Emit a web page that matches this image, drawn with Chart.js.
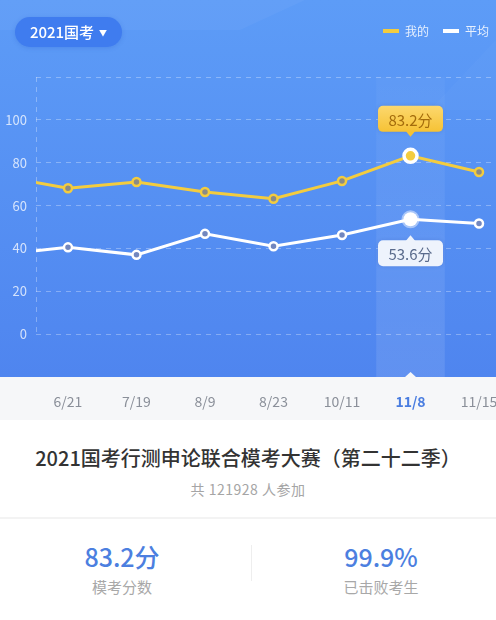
<!DOCTYPE html>
<html>
<head>
<meta charset="utf-8">
<script src="https://cdn.jsdelivr.net/npm/chart.js@4.4.0/dist/chart.umd.min.js"></script>
<style>
  body { margin: 0; width: 496px; height: 620px; overflow: hidden; background: #fff;
         font-family: "PingFang SC", "Noto Sans CJK SC", sans-serif; }
  #top { position: relative; width: 496px; height: 420px; }
  #pill { position: absolute; left: 15px; top: 17px; width: 107px; height: 30px; border-radius: 15px;
          background: #3f7cef; color: #fff; font-size: 15px; font-weight: 500; line-height: 30px;
          text-align: center; box-shadow: 0 1px 4px rgba(40, 90, 200, 0.25); }
  #pill span { font-size: 8px; margin-left: 5px; vertical-align: 2px; }
  .abs { position: absolute; text-align: center; }
  #title { left: 0; width: 496px; top: 445px; font-size: 20px; line-height: 26px; color: #333; font-weight: 500; }
  #sub { left: 0; width: 496px; top: 480px; font-size: 14px; line-height: 18px; color: #a5a5a5; letter-spacing: 0.5px; }
  #line { left: 0; top: 517px; width: 496px; height: 2px; background: #f3f3f3; }
  .num { top: 541px; width: 200px; font-size: 25px; line-height: 30px; color: #4c7fe0; font-weight: 500; }
  .lbl { top: 577px; width: 200px; font-size: 15px; line-height: 20px; color: #a8a8a8; }
  #div { left: 251px; top: 545px; width: 1px; height: 36px; background: #eeeeee; }
</style>
</head>
<body>
<div id="top">
  <canvas id="trend" width="496" height="420"></canvas>
  <div id="pill">2021国考<span>▼</span></div>
</div>
<div id="title" class="abs">2021国考行测申论联合模考大赛（第二十二季）</div>
<div id="sub" class="abs">共 121928 人参加</div>
<div id="line" class="abs"></div>
<div class="abs num" style="left:22px">83.2分</div>
<div class="abs lbl" style="left:22px">模考分数</div>
<div id="div" class="abs"></div>
<div class="abs num" style="left:281px">99.9%</div>
<div class="abs lbl" style="left:281px">已击败考生</div>

<script>
// datos de la gráfica (el primer punto queda fuera, a la izquierda)
const dates = ['', '6/21', '7/19', '8/9', '8/23', '10/11', '11/8', '11/15'];
const myScores = [73.8, 68.1, 71.0, 66.3, 63.2, 71.5, 83.2, 75.7];
const avgScores = [37.2, 40.5, 37.0, 46.8, 41.0, 46.3, 53.6, 51.6];
const seriesNames = ['我的', '平均'];
const yTicks = [0, 20, 40, 60, 80, 100];
const activeIndex = 6;

const YELLOW = '#f3cc3f';
const FONT = '"PingFang SC", "Noto Sans CJK SC", sans-serif';

const toPoints = (arr) => arr.map((v, i) => ({ x: i, y: v }));

// fondo azul, franja gris y columna resaltada
const backdrop = {
  id: 'backdrop',
  afterInit(chart) {
    // altura fija para la leyenda, así el área del gráfico empieza donde queremos
    const lg = chart.legend;
    const fit = lg.fit.bind(lg);
    lg.fit = function () {
      fit();
      this.height = 66;
    };
  },
  afterLayout(chart) {
    // empujar la leyenda un poco hacia la derecha
    chart.legend.right = chart.width + 7;
  },
  beforeDraw(chart) {
    const { ctx, chartArea, width, height, scales } = chart;
    const bottom = chartArea.bottom;
    const g = ctx.createLinearGradient(0, 0, 0, bottom);
    g.addColorStop(0, '#5d9cf7');
    g.addColorStop(1, '#4f85ef');
    ctx.save();
    ctx.fillStyle = g;
    ctx.fillRect(0, 0, width, bottom);
    // diagonales suaves de decoración
    ctx.fillStyle = 'rgba(255,255,255,0.04)';
    ctx.beginPath();
    ctx.moveTo(0, 0); ctx.lineTo(305, 0); ctx.lineTo(240, 30); ctx.lineTo(0, 30); ctx.closePath();
    ctx.fill();
    ctx.fillStyle = 'rgba(255,255,255,0.025)';
    ctx.beginPath();
    ctx.moveTo(496, 40); ctx.lineTo(496, 110); ctx.lineTo(430, 110); ctx.closePath();
    ctx.fill();
    // franja de etiquetas
    ctx.fillStyle = '#f6f7f9';
    ctx.fillRect(0, bottom, width, height - bottom);
    // columna activa
    const x = scales.x.getPixelForValue(activeIndex);
    const half = (scales.x.getPixelForValue(1) - scales.x.getPixelForValue(0)) / 2;
    const bg = ctx.createLinearGradient(0, chartArea.top, 0, bottom);
    bg.addColorStop(0, 'rgba(255,255,255,0.03)');
    bg.addColorStop(1, 'rgba(255,255,255,0.1)');
    ctx.fillStyle = bg;
    ctx.fillRect(x - half, chartArea.top, half * 2, bottom - chartArea.top);
    ctx.fillStyle = '#f6f7f9';
    ctx.beginPath();
    ctx.moveTo(x - 6, bottom + 0.5); ctx.lineTo(x, bottom - 5); ctx.lineTo(x + 6, bottom + 0.5);
    ctx.closePath();
    ctx.fill();
    // eje vertical punteado
    const y = scales.y;
    ctx.strokeStyle = 'rgba(255,255,255,0.3)';
    ctx.lineWidth = 1;
    ctx.setLineDash([5, 5]);
    ctx.beginPath();
    ctx.moveTo(chartArea.left + 0.5, y.getPixelForValue(120));
    ctx.lineTo(chartArea.left + 0.5, y.getPixelForValue(0));
    ctx.stroke();
    ctx.restore();
  }
};

function roundRect(ctx, x, y, w, h, r) {
  ctx.beginPath();
  ctx.moveTo(x + r, y);
  ctx.arcTo(x + w, y, x + w, y + h, r);
  ctx.arcTo(x + w, y + h, x, y + h, r);
  ctx.arcTo(x, y + h, x, y, r);
  ctx.arcTo(x, y, x + w, y, r);
  ctx.closePath();
}

// etiquetas fijas del punto activo
const badges = {
  id: 'badges',
  afterDatasetsDraw(chart) {
    const { ctx } = chart;
    const p1 = chart.getDatasetMeta(0).data[activeIndex];
    const p2 = chart.getDatasetMeta(1).data[activeIndex];
    const w = 65, h = 26;
    ctx.save();
    ctx.font = '15px ' + FONT;
    ctx.textAlign = 'center';
    ctx.textBaseline = 'middle';

    // caja amarilla arriba
    let top = p1.y - 50;
    const gy = ctx.createLinearGradient(0, top, 0, top + h);
    gy.addColorStop(0, '#fcd86e');
    gy.addColorStop(1, '#f6c235');
    ctx.fillStyle = gy;
    ctx.shadowColor = 'rgba(30,60,150,0.2)';
    ctx.shadowBlur = 4;
    roundRect(ctx, p1.x - w / 2, top, w, h, 5);
    ctx.fill();
    ctx.shadowBlur = 0;
    ctx.fillStyle = '#f6c235';
    ctx.beginPath();
    ctx.moveTo(p1.x - 5, top + h - 1); ctx.lineTo(p1.x, top + h + 5); ctx.lineTo(p1.x + 5, top + h - 1);
    ctx.fill();
    ctx.fillStyle = '#a46c0c';
    ctx.fillText(myScores[activeIndex] + '分', p1.x, top + h / 2 + 1);

    // caja blanca abajo
    top = p2.y + 21;
    ctx.fillStyle = '#eef3fc';
    ctx.shadowColor = 'rgba(30,60,150,0.2)';
    ctx.shadowBlur = 4;
    roundRect(ctx, p2.x - w / 2, top, w, h, 5);
    ctx.fill();
    ctx.shadowBlur = 0;
    ctx.beginPath();
    ctx.moveTo(p2.x - 5, top + 1); ctx.lineTo(p2.x, top - 5); ctx.lineTo(p2.x + 5, top + 1);
    ctx.fill();
    ctx.fillStyle = '#5a6b8c';
    ctx.fillText(avgScores[activeIndex] + '分', p2.x, top + h / 2 + 1);
    ctx.restore();
  }
};

const ctx = document.getElementById('trend').getContext('2d');
new Chart(ctx, {
  type: 'line',
  data: {
    datasets: [{
      label: seriesNames[0],
      data: toPoints(myScores),
      borderColor: YELLOW,
      backgroundColor: YELLOW,
      borderWidth: 3,
      tension: 0,
      clip: 0,
      pointRadius: (c) => c.dataIndex === activeIndex ? 6.5 : 4,
      pointBorderWidth: (c) => c.dataIndex === activeIndex ? 3.5 : 2.5,
      pointBorderColor: (c) => c.dataIndex === activeIndex ? '#ffffff' : YELLOW,
      pointBackgroundColor: (c) => c.dataIndex === activeIndex ? YELLOW : '#8a8b86'
    }, {
      label: seriesNames[1],
      data: toPoints(avgScores),
      borderColor: '#ffffff',
      backgroundColor: '#ffffff',
      borderWidth: 3,
      tension: 0,
      clip: 0,
      pointRadius: (c) => c.dataIndex === activeIndex ? 7 : 4,
      pointBorderWidth: (c) => c.dataIndex === activeIndex ? 4 : 2.5,
      pointBorderColor: (c) => c.dataIndex === activeIndex ? 'rgba(255,255,255,0.45)' : '#ffffff',
      pointBackgroundColor: (c) => c.dataIndex === activeIndex ? '#ffffff' : '#7287bf'
    }]
  },
  options: {
    responsive: false,
    animation: false,
    devicePixelRatio: 1,
    layout: { autoPadding: false, padding: { top: 11, left: 0, right: 0, bottom: 0 } },
    scales: {
      x: {
        type: 'linear',
        min: 0.533,
        max: 7.248,
        grid: { display: false },
        border: { display: false },
        afterBuildTicks: (s) => {
          s.ticks = dates.map((d, i) => ({ value: i })).filter(t => t.value >= 1);
        },
        afterFit: (s) => { s.paddingLeft = 0; s.paddingRight = 0; s.height = 43; },
        ticks: {
          padding: 8,
          autoSkip: false,
          maxRotation: 0,
          callback: (v) => dates[v],
          color: (c) => c.tick && c.tick.value === activeIndex ? '#4a7de0' : '#8a8f99',
          font: (c) => ({ family: FONT, size: 14, weight: c.tick && c.tick.value === activeIndex ? 'bold' : 'normal' })
        }
      },
      y: {
        min: -20,
        max: 120,
        afterFit: (s) => { s.width = 36; },
        grid: {
          drawTicks: false,
          color: (c) => c.tick && c.tick.value >= 0 ? 'rgba(255,255,255,0.3)' : 'rgba(0,0,0,0)',
          lineWidth: 1
        },
        border: { display: false, dash: [5, 5] },
        afterBuildTicks: (s) => {
          s.ticks = yTicks.concat([120]).map(v => ({ value: v }));
        },
        ticks: {
          padding: 9,
          color: 'rgba(255,255,255,0.75)',
          font: { family: FONT, size: 13 },
          callback: (v) => yTicks.includes(v) ? v : ''
        }
      }
    },
    plugins: {
      legend: {
        position: 'top',
        align: 'end',
        labels: {
          boxWidth: 16,
          boxHeight: 4,
          padding: 14,
          color: 'rgba(255,255,255,0.85)',
          font: { family: FONT, size: 12 },
          generateLabels: (chart) => chart.data.datasets.map((ds, i) => ({
            text: ds.label,
            fillStyle: ds.borderColor,
            strokeStyle: ds.borderColor,
            lineWidth: 0,
            fontColor: 'rgba(255,255,255,0.85)',
            datasetIndex: i
          }))
        }
      },
      tooltip: { enabled: false }
    }
  },
  plugins: [backdrop, badges]
});
</script>
</body>
</html>
